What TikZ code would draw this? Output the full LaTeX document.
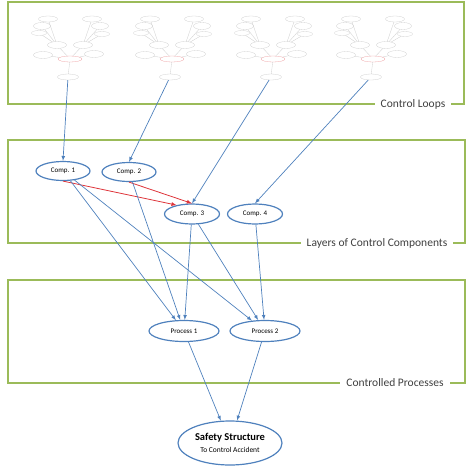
\documentclass[tikz,border=0pt]{standalone}
\usepackage{fontspec}
\setmainfont{Carlito}
\usepackage{tikz}
\usetikzlibrary{shapes.geometric}
\definecolor{boxgreen}{RGB}{155,187,89}
\definecolor{nodeblue}{RGB}{79,129,189}
\definecolor{linkred}{RGB}{222,52,58}
\definecolor{labelgray}{RGB}{64,64,64}
\tikzset{
    frame/.style={draw=boxgreen, line width=1.8pt},
    framelabel/.style={fill=white, inner xsep=6pt, inner ysep=1pt, text=labelgray, font=\fontsize{11.5}{13}\selectfont},
    comp/.style={shape=ellipse, draw=nodeblue, line width=1.2pt, fill=white, inner sep=0pt, minimum width=54pt, minimum height=19pt, font=\fontsize{7}{8}\selectfont},
    proc/.style={comp, minimum width=70pt, minimum height=21pt},
    goal/.style={comp, minimum width=104pt, minimum height=44pt, align=center},
    tnode/.style={shape=ellipse, draw=black!18, line width=0.3pt, fill=white, inner sep=0pt, minimum width=19pt, minimum height=6pt},
    tlink/.style={draw=black!20, line width=0.3pt},
    flow/.style={->, draw=nodeblue, line width=0.7pt},
    redlink/.style={->, draw=linkred, line width=0.8pt}}

\begin{document}
\begin{tikzpicture}[x=1pt, y=-1pt, >=latex]

    \useasboundingbox (0,0) rectangle (474,474);

    % frames
    \draw[frame] (8,2) rectangle (464,104);
    \draw[frame] (8,140) rectangle (465,243);
    \draw[frame] (8,280) rectangle (465,383);
    \node[framelabel] (F1) at (413,104) {Control Loops};
    \node[framelabel] (F2) at (377,243) {Layers of Control Components};
    \node[framelabel] (F3) at (395,383) {Controlled Processes};

    % control loops
    \foreach \i/\dx in {1/0,2/102,3/203,4/303}{
        \begin{scope}[xshift=\dx pt]
            \node[tnode] (T\i-a) at (48,19) {};
            \node[tnode] (T\i-b) at (92,19) {};
            \node[tnode, minimum width=17pt, minimum height=7pt] (T\i-c) at (42,26) {};
            \node[tnode, minimum width=17pt, minimum height=7pt] (T\i-d) at (100,26) {};
            \node[tnode, minimum width=15pt, minimum height=5pt] (T\i-e) at (39,33) {};
            \node[tnode, minimum width=15pt, minimum height=5pt] (T\i-f) at (102,34) {};
            \node[tnode, minimum height=7pt] (M\i-a) at (57,45) {};
            \node[tnode, minimum height=7pt] (M\i-b) at (83,45) {};
            \node[tnode, minimum height=7pt] (S\i-a) at (43,55) {};
            \node[tnode, minimum height=7pt] (S\i-b) at (94,54) {};
            \node[tnode, draw=linkred!45, minimum width=24pt] (R\i) at (70,59) {};
            \node[tnode, minimum width=21pt] (L\i) at (68,77) {};

            \draw[tlink] (T\i-a) -- (M\i-a);
            \draw[tlink] (T\i-c) -- (M\i-a);
            \draw[tlink] (T\i-e) -- (M\i-a);
            \draw[tlink] (T\i-b) -- (M\i-b);
            \draw[tlink] (T\i-d) -- (M\i-b);
            \draw[tlink] (T\i-f) -- (M\i-b);
            \draw[tlink] (M\i-a) -- (R\i);
            \draw[tlink] (M\i-b) -- (R\i);
            \draw[tlink] (S\i-a) -- (R\i);
            \draw[tlink] (S\i-b) -- (R\i);
            \draw[tlink] (R\i) -- (L\i);
        \end{scope}
    }

    % components
    \node[comp] (C1) at (63,171) {Comp. 1};
    \node[comp] (C2) at (129,172) {Comp. 2};
    \node[comp, minimum width=55pt, minimum height=20pt] (C3) at (192,214) {Comp. 3};
    \node[comp, minimum width=55pt, minimum height=20pt] (C4) at (255,214) {Comp. 4};

    % processes
    \node[proc] (P1) at (184,331) {Process 1};
    \node[proc] (P2) at (265,331) {Process 2};

    \node[goal] (S) at (230,443) {{\fontsize{10.5}{12}\selectfont\bfseries Safety Structure}\\[4pt]{\fontsize{7.5}{8}\selectfont To Control Accident}};

    \draw[flow] (L1) -- (C1.north);
    \draw[flow] (L2) -- (C2.north);
    \draw[flow] (L3) -- (C3.north);
    \draw[flow] (L4) -- (C4.north);

    \draw[redlink] (C1.south) -- (C3.150);
    \draw[redlink] (C2.south) -- (C3.north);

    \draw[flow] (C1) -- (P1);
    \draw[flow] (C1) -- (P2);
    \draw[flow] (C2) -- (P1);
    \draw[flow] (C3) -- (P1);
    \draw[flow] (C3) -- (P2);
    \draw[flow] (C4) -- (P2);
    \draw[flow] (P1) -- (S);
    \draw[flow] (P2) -- (S);

\end{tikzpicture}
\end{document}
